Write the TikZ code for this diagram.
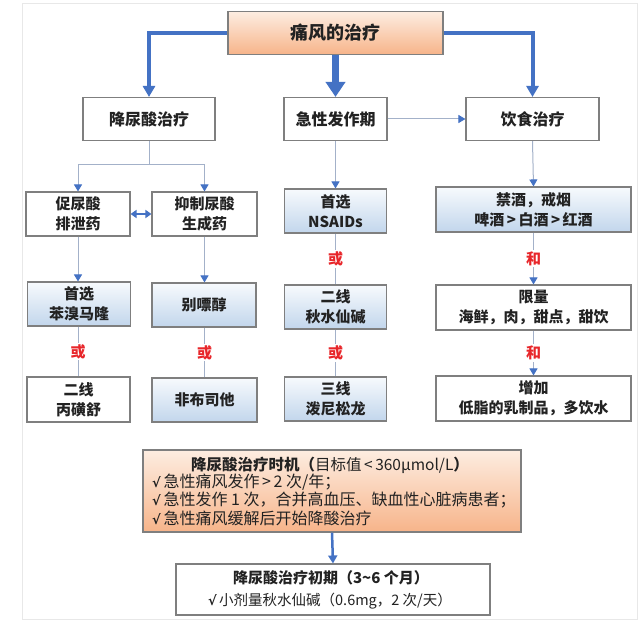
\documentclass[tikz,border=0pt]{standalone}
\usepackage{fontspec}
\setmainfont{Noto Sans CJK SC}
\newfontfamily\djv{DejaVu Sans}
\usetikzlibrary{arrows.meta}
\definecolor{bblue}{HTML}{4472C4}
\definecolor{lline}{HTML}{A3B1C9}
\definecolor{bord}{HTML}{7F7F7F}
\definecolor{redt}{HTML}{E8262A}
\definecolor{ortop}{HTML}{FDEDE1}
\definecolor{orbot}{HTML}{F7B48A}
\definecolor{bltop}{HTML}{F7FAFD}
\definecolor{blbot}{HTML}{C2D6EC}
\definecolor{txt}{HTML}{222222}
\newcommand{\chk}{{\djv\bfseries\fontsize{13}{13}\selectfont √}}
\tikzset{
  box/.style={draw=bord, line width=1.1pt, fill=white, align=center, inner sep=0pt,
    font=\bfseries\fontsize{15}{20}\selectfont, text=txt},
  bluebox/.style={box, top color=bltop, bottom color=blbot},
  orbox/.style={box, top color=ortop, bottom color=orbot},
  thinline/.style={draw=lline, line width=1pt},
  thinarrow/.style={thinline, -{Triangle[length=7pt,width=8pt,color=bblue]}},
  bigarrow/.style={draw=bblue, line width=4pt, -{Triangle[length=11pt,width=12pt]}},
  hugearrow/.style={draw=bblue, line width=6.5pt, -{Triangle[length=15pt,width=19pt]}},
  midarrow/.style={draw=bblue, line width=2.5pt, -{Triangle[length=8pt,width=9pt]}},
  dblarrow/.style={draw=bblue, line width=2.5pt, {Triangle[length=6pt,width=8pt]}-{Triangle[length=6pt,width=8pt]}},
  orlabel/.style={fill=white, inner sep=1.5pt, text=redt, font=\bfseries\fontsize{15}{18}\selectfont},
  plain/.style={inner sep=0pt, text=txt, font=\fontsize{16}{18}\selectfont},
}
\begin{document}
\begin{tikzpicture}[x=1pt,y=-1pt]
\useasboundingbox (0,0) rectangle (640,623);
\fill[white] (0,0) rectangle (640,623);
\draw[black!9, line width=0.8pt] (22,3) rectangle (637,619);

% top
\node[orbox, minimum width=215pt, minimum height=43pt, font=\bfseries\fontsize{18}{20}\selectfont] (T) at (335.5,33) {痛风的治疗};
% row 2
\node[box, minimum width=132pt, minimum height=43pt, font=\bfseries\fontsize{16}{20}\selectfont] (A) at (149,119) {降尿酸治疗};
\node[box, minimum width=103pt, minimum height=43pt, font=\bfseries\fontsize{16}{20}\selectfont] (B) at (335.5,119) {急性发作期};
\node[box, minimum width=133pt, minimum height=43pt, font=\bfseries\fontsize{16}{20}\selectfont] (C) at (532.5,119) {饮食治疗};
% row 3
\node[box, minimum width=104pt, minimum height=44pt] (D) at (78,214) {促尿酸\\排泄药};
\node[box, minimum width=105pt, minimum height=44pt] (E) at (204.5,214) {抑制尿酸\\生成药};
\node[bluebox, minimum width=102pt, minimum height=44pt] (F) at (335.5,211) {首选\\NSAIDs};
\node[bluebox, minimum width=195pt, minimum height=45pt] (G) at (533.5,209.5) {禁酒，戒烟\\啤酒\,>\,白酒\,>\,红酒};
% row 4
\node[bluebox, minimum width=103pt, minimum height=44pt] (H) at (79,304) {首选\\苯溴马隆};
\node[bluebox, minimum width=104pt, minimum height=44pt] (I) at (204,305) {别嘌醇};
\node[bluebox, minimum width=102pt, minimum height=44pt] (J) at (335.5,307) {二线\\秋水仙碱};
\node[box, minimum width=195pt, minimum height=45pt] (K) at (533.5,307.5) {限量\\海鲜，肉，甜点，甜饮};
% row 5
\node[box, minimum width=103pt, minimum height=45pt] (L) at (78.5,399.5) {二线\\丙磺舒};
\node[bluebox, minimum width=105pt, minimum height=44pt] (M) at (204.5,400) {非布司他};
\node[bluebox, minimum width=102pt, minimum height=44pt] (N) at (335.5,399) {三线\\泼尼松龙};
\node[box, minimum width=195pt, minimum height=45pt] (O) at (533.5,398.5) {增加\\低脂的乳制品，多饮水};
% bottom boxes
\node[orbox, minimum width=378pt, minimum height=82pt] (P) at (332,491) {};
\node[plain, font=\fontsize{15.5}{18}\selectfont] (P0) at (330,465) {\bfseries 降尿酸治疗时机（\mdseries 目标值\,<\,360μmol/L\bfseries ）};
\node[plain, anchor=west] (P1) at (152,482.5) {\chk\,急性痛风发作\,>\,2 次/年；};
\node[plain, anchor=west] (P2) at (152,500.5) {\chk\,急性发作 1 次，合并高血压、缺血性心脏病患者；};
\node[plain, anchor=west] (P3) at (152,518.5) {\chk\,急性痛风缓解后开始降酸治疗};
\node[box, minimum width=314pt, minimum height=51pt] (Q) at (333,589.5) {};
\node[plain, font=\bfseries\fontsize{15}{18}\selectfont] (Q0) at (331,578) {降尿酸治疗初期（3\textasciitilde 6 个月）};
\node[plain, font=\fontsize{14.5}{18}\selectfont] (Q1) at (330,601) {\chk\,小剂量秋水仙碱（0.6mg，2 次/天）};

% thick arrows from top
\draw[bigarrow] (T.west) -| (A.north);
\draw[bigarrow] (T.east) -| (C.north);
\draw[hugearrow] (T.south) -- (B.north);
% row 2 links
\draw[thinarrow] (B.east) -- (C.west);
\coordinate (s1) at (149,165);
\draw[thinarrow] (A.south) -- (s1) -| (D.north);
\draw[thinarrow] (s1) -| (E.north);
\draw[dblarrow] (D.east) -- (E.west);
\draw[thinarrow] (B.south) -- (F.north);
\draw[thinarrow] (C.south) -- (G.north);
\draw[thinarrow] (D.south) -- (D.south |- H.north);
\draw[thinarrow] (E.south) -- (E.south |- I.north);
% or / and links
\draw[thinline] (D.south |- H.south) -- (D.south |- L.north) node[midway, orlabel] (or1) {或};
\draw[thinline] (E.south |- I.south) -- (E.south |- M.north) node[midway, orlabel] (or2) {或};
\draw[thinline] (F.south) -- (J.north) node[midway, orlabel] (or3) {或};
\draw[thinline] (J.south) -- (N.north) node[midway, orlabel] (or4) {或};
\draw[thinarrow] (G.south) -- (K.north) node[midway, orlabel] (and1) {和};
\draw[thinarrow] (K.south) -- (O.north) node[midway, orlabel] (and2) {和};
% bottom
\draw[midarrow] (P.south) -- (Q.north);
\end{tikzpicture}
\end{document}
